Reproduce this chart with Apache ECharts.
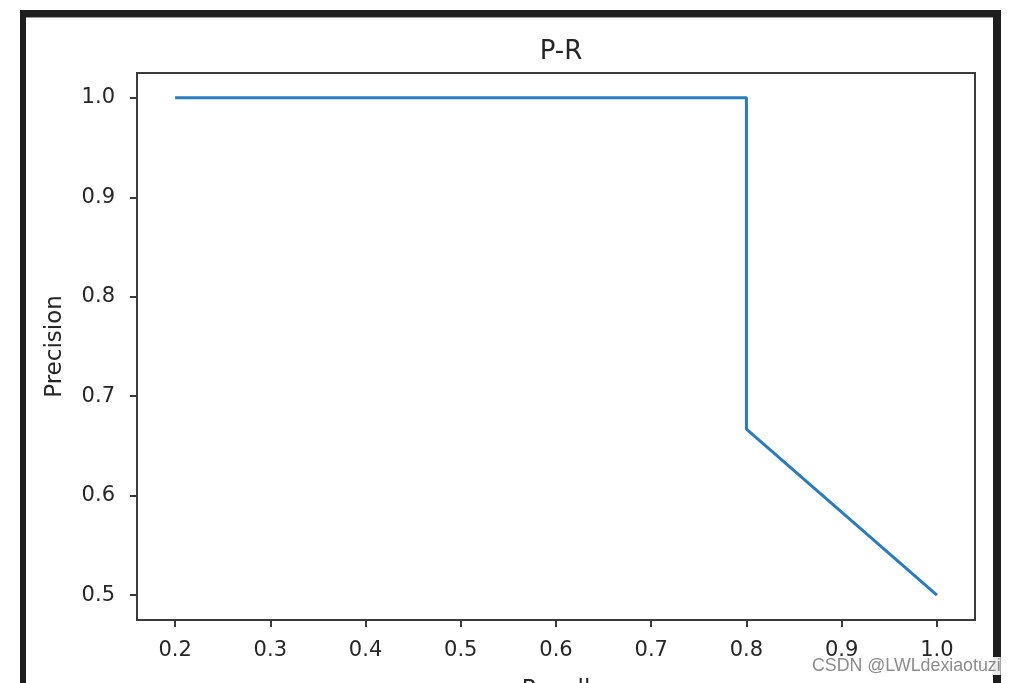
<!DOCTYPE html>
<html>
<head>
<meta charset="utf-8">
<script src="https://cdn.jsdelivr.net/npm/echarts@6/dist/echarts.min.js"></script>
<style>
html,body{margin:0;padding:0;background:#fff;}
#chart{width:1015px;height:683px;}
</style>
</head>
<body>
<div id="chart"></div>
<script>
// Data
const recall = [0.2, 0.4, 0.6, 0.8, 0.8, 1.0];
const precision = [1.0, 1.0, 1.0, 1.0, 0.667, 0.5];
const xTicks = [0.2, 0.3, 0.4, 0.5, 0.6, 0.7, 0.8, 0.9, 1.0];
const yTicks = [0.5, 0.6, 0.7, 0.8, 0.9, 1.0];
const titleText = 'P-R';
const xName = 'Recall';
const yName = 'Precision';
const watermark = 'CSDN @LWLdexiaotuzi';

const chart = echarts.init(document.getElementById('chart'), null, {renderer: 'canvas'});
const font = 'DejaVu Sans';
const axisColor = '#3a3a3a';
const textColor = '#262626';

const option = {
  backgroundColor: '#ffffff',
  animation: false,
  title: {
    text: titleText,
    left: 556,
    top: 34,
    textAlign: 'center',
    textStyle: {fontFamily: font, fontSize: 26, fontWeight: 'normal', color: textColor}
  },
  grid: {
    left: 137, right: 40, top: 73, bottom: 63,
    containLabel: false,
    outerBoundsMode: 'none',
    show: true, borderColor: axisColor, borderWidth: 2, backgroundColor: 'transparent'
  },
  xAxis: {
    type: 'value',
    min: 0.16, max: 1.04,
    name: xName,
    nameLocation: 'middle',
    nameGap: 59,
    nameMoveOverlap: false,
    nameTextStyle: {fontFamily: font, fontSize: 23, color: textColor},
    axisLine: {show: true, lineStyle: {color: axisColor, width: 2}},
    axisTick: {show: true, length: 7, lineStyle: {color: axisColor, width: 2}, customValues: xTicks},
    axisLabel: {
      fontFamily: font, fontSize: 21, color: textColor, margin: 20,
      customValues: xTicks,
      formatter: v => v.toFixed(1)
    },
    splitLine: {show: false}
  },
  yAxis: {
    type: 'value',
    min: 0.475, max: 1.025,
    name: yName,
    nameLocation: 'middle',
    nameGap: 70,
    nameRotate: 90,
    nameMoveOverlap: false,
    nameTextStyle: {fontFamily: font, fontSize: 23, color: textColor},
    axisLine: {show: true, lineStyle: {color: axisColor, width: 2}},
    axisTick: {show: true, length: 7, lineStyle: {color: axisColor, width: 2}, customValues: yTicks},
    axisLabel: {
      fontFamily: font, fontSize: 21, color: textColor, margin: 22,
      customValues: yTicks,
      formatter: v => v.toFixed(1)
    },
    splitLine: {show: false}
  },
  series: [{
    type: 'line',
    data: recall.map((r, i) => [r, precision[i]]),
    showSymbol: false,
    symbol: 'none',
    lineStyle: {color: '#2b7cbf', width: 3},
    z: 3
  }],
  graphic: [
    {type: 'rect', shape: {x: 20, y: 10, width: 981, height: 7}, style: {fill: '#1e1e1e'}, z: 100},
    {type: 'rect', shape: {x: 20, y: 10, width: 6, height: 700}, style: {fill: '#1e1e1e'}, z: 100},
    {type: 'rect', shape: {x: 993, y: 10, width: 8, height: 700}, style: {fill: '#1e1e1e'}, z: 100},
    {type: 'rect', shape: {x: 26, y: 17, width: 967, height: 1}, style: {fill: '#9a9a9a'}, z: 100},
    {type: 'text', left: 812, top: 657,
      style: {text: watermark, fontFamily: 'Liberation Sans', fontSize: 17.8, fill: '#8c8c8c',
        backgroundColor: 'rgba(255,255,255,0.9)'}, z: 120}
  ]
};
chart.setOption(option);
</script>
</body>
</html>
